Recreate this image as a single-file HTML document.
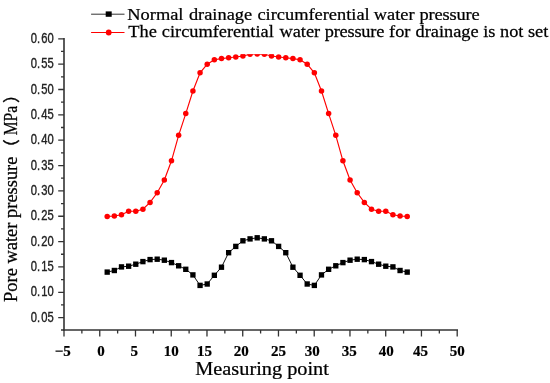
<!DOCTYPE html>
<html><head><meta charset="utf-8"><title>Pore water pressure chart</title>
<style>
html,body{margin:0;padding:0;background:#fff;}
body{width:550px;height:383px;overflow:hidden;}
svg{display:block;}
.leg{font-family:"Liberation Serif","Times New Roman",serif;font-size:17.6px;fill:#000;stroke:#000;stroke-width:0.25px;}
.xt{font-family:"Liberation Serif","Times New Roman",serif;font-size:19.2px;fill:#000;stroke:#000;stroke-width:0.25px;}
.yt{font-family:"Liberation Serif","Times New Roman",serif;font-size:18.8px;fill:#000;stroke:#000;stroke-width:0.25px;}
.yp{font-family:"Noto Sans CJK SC","WenQuanYi Zen Hei",sans-serif;font-size:17px;fill:#000;stroke:#000;stroke-width:0.4px;}
.yl{font-family:"Liberation Sans",Arial,sans-serif;font-size:11.2px;fill:#222;stroke:#222;stroke-width:0.3px;text-anchor:end;}
.xl{font-family:"Liberation Serif","Times New Roman",serif;font-weight:bold;font-size:15px;fill:#000;stroke:#000;stroke-width:0.2px;text-anchor:middle;}
</style></head><body>
<svg width="550" height="383" viewBox="0 0 550 383">
<rect width="550" height="383" fill="#fff"/>

<g stroke="#333" stroke-width="1.6" fill="none">
<path d="M64.0 38.099999999999994V330.8"/>
<path d="M63.2 330.0H458"/>
</g><g stroke="#333" stroke-width="1.3" fill="none">
<path d="M64.0 317.65h-5.8M64.0 304.97h-3M64.0 292.30h-5.8M64.0 279.62h-3M64.0 266.95h-5.8M64.0 254.27h-3M64.0 241.60h-5.8M64.0 228.92h-3M64.0 216.25h-5.8M64.0 203.57h-3M64.0 190.90h-5.8M64.0 178.22h-3M64.0 165.55h-5.8M64.0 152.87h-3M64.0 140.20h-5.8M64.0 127.52h-3M64.0 114.85h-5.8M64.0 102.17h-3M64.0 89.50h-5.8M64.0 76.82h-3M64.0 64.15h-5.8M64.0 51.47h-3M64.0 38.80h-5.8M64.0 330.0h-3"/>
<path d="M64.00 330.0v6.4M81.87 330.0v3.6M99.75 330.0v6.4M117.62 330.0v3.6M135.49 330.0v6.4M153.36 330.0v3.6M171.24 330.0v6.4M189.11 330.0v3.6M206.98 330.0v6.4M224.85 330.0v3.6M242.73 330.0v6.4M260.60 330.0v3.6M278.47 330.0v6.4M296.35 330.0v3.6M314.22 330.0v6.4M332.09 330.0v3.6M349.96 330.0v6.4M367.84 330.0v3.6M385.71 330.0v6.4M403.58 330.0v3.6M421.45 330.0v6.4M439.33 330.0v3.6M457.20 330.0v6.4"/>
</g>
<text class="yl" transform="translate(53.8 321.65) scale(1 1.23)">0.<tspan dx="1.2">05</tspan></text>
<text class="yl" transform="translate(53.8 296.30) scale(1 1.23)">0.<tspan dx="1.2">10</tspan></text>
<text class="yl" transform="translate(53.8 270.95) scale(1 1.23)">0.<tspan dx="1.2">15</tspan></text>
<text class="yl" transform="translate(53.8 245.60) scale(1 1.23)">0.<tspan dx="1.2">20</tspan></text>
<text class="yl" transform="translate(53.8 220.25) scale(1 1.23)">0.<tspan dx="1.2">25</tspan></text>
<text class="yl" transform="translate(53.8 194.90) scale(1 1.23)">0.<tspan dx="1.2">30</tspan></text>
<text class="yl" transform="translate(53.8 169.55) scale(1 1.23)">0.<tspan dx="1.2">35</tspan></text>
<text class="yl" transform="translate(53.8 144.20) scale(1 1.23)">0.<tspan dx="1.2">40</tspan></text>
<text class="yl" transform="translate(53.8 118.85) scale(1 1.23)">0.<tspan dx="1.2">45</tspan></text>
<text class="yl" transform="translate(53.8 93.50) scale(1 1.23)">0.<tspan dx="1.2">50</tspan></text>
<text class="yl" transform="translate(53.8 68.15) scale(1 1.23)">0.<tspan dx="1.2">55</tspan></text>
<text class="yl" transform="translate(53.8 42.80) scale(1 1.23)">0.<tspan dx="1.2">60</tspan></text>
<text class="xl" x="62.85" y="356.4">−5</text>
<text class="xl" x="101.05" y="356.4">0</text>
<text class="xl" x="134.29" y="356.4">5</text>
<text class="xl" x="171.34" y="356.4">10</text>
<text class="xl" x="204.48" y="356.4">15</text>
<text class="xl" x="241.33" y="356.4">20</text>
<text class="xl" x="278.57" y="356.4">25</text>
<text class="xl" x="312.32" y="356.4">30</text>
<text class="xl" x="349.31" y="356.4">35</text>
<text class="xl" x="386.31" y="356.4">40</text>
<text class="xl" x="420.55" y="356.4">45</text>
<text class="xl" x="457.20" y="356.4">50</text>
<polyline points="107.20,272.10 114.34,270.50 121.49,266.90 128.63,266.20 135.77,264.20 142.91,261.60 150.06,259.60 157.20,259.20 164.34,260.20 171.49,262.60 178.63,265.80 185.77,269.30 192.92,274.90 200.06,285.40 207.20,284.00 214.34,275.30 221.49,267.20 228.63,252.70 235.77,246.40 242.92,240.80 250.06,238.90 257.20,237.80 264.35,238.90 271.49,240.80 278.63,246.40 285.77,252.70 292.92,267.20 300.06,275.30 307.20,284.00 314.35,285.40 321.49,274.90 328.63,269.30 335.78,265.80 342.92,262.60 350.06,260.20 357.20,259.20 364.35,259.60 371.49,261.60 378.63,264.20 385.78,266.20 392.92,266.90 400.06,270.50 407.21,272.10" fill="none" stroke="#000" stroke-width="0.95"/>
<g fill="#000"><rect x="104.55" y="269.40" width="5.3" height="5.4"/><rect x="111.69" y="267.80" width="5.3" height="5.4"/><rect x="118.84" y="264.20" width="5.3" height="5.4"/><rect x="125.98" y="263.50" width="5.3" height="5.4"/><rect x="133.12" y="261.50" width="5.3" height="5.4"/><rect x="140.26" y="258.90" width="5.3" height="5.4"/><rect x="147.41" y="256.90" width="5.3" height="5.4"/><rect x="154.55" y="256.50" width="5.3" height="5.4"/><rect x="161.69" y="257.50" width="5.3" height="5.4"/><rect x="168.84" y="259.90" width="5.3" height="5.4"/><rect x="175.98" y="263.10" width="5.3" height="5.4"/><rect x="183.12" y="266.60" width="5.3" height="5.4"/><rect x="190.27" y="272.20" width="5.3" height="5.4"/><rect x="197.41" y="282.70" width="5.3" height="5.4"/><rect x="204.55" y="281.30" width="5.3" height="5.4"/><rect x="211.69" y="272.60" width="5.3" height="5.4"/><rect x="218.84" y="264.50" width="5.3" height="5.4"/><rect x="225.98" y="250.00" width="5.3" height="5.4"/><rect x="233.12" y="243.70" width="5.3" height="5.4"/><rect x="240.27" y="238.10" width="5.3" height="5.4"/><rect x="247.41" y="236.20" width="5.3" height="5.4"/><rect x="254.55" y="235.10" width="5.3" height="5.4"/><rect x="261.70" y="236.20" width="5.3" height="5.4"/><rect x="268.84" y="238.10" width="5.3" height="5.4"/><rect x="275.98" y="243.70" width="5.3" height="5.4"/><rect x="283.12" y="250.00" width="5.3" height="5.4"/><rect x="290.27" y="264.50" width="5.3" height="5.4"/><rect x="297.41" y="272.60" width="5.3" height="5.4"/><rect x="304.55" y="281.30" width="5.3" height="5.4"/><rect x="311.70" y="282.70" width="5.3" height="5.4"/><rect x="318.84" y="272.20" width="5.3" height="5.4"/><rect x="325.98" y="266.60" width="5.3" height="5.4"/><rect x="333.13" y="263.10" width="5.3" height="5.4"/><rect x="340.27" y="259.90" width="5.3" height="5.4"/><rect x="347.41" y="257.50" width="5.3" height="5.4"/><rect x="354.56" y="256.50" width="5.3" height="5.4"/><rect x="361.70" y="256.90" width="5.3" height="5.4"/><rect x="368.84" y="258.90" width="5.3" height="5.4"/><rect x="375.98" y="261.50" width="5.3" height="5.4"/><rect x="383.13" y="263.50" width="5.3" height="5.4"/><rect x="390.27" y="264.20" width="5.3" height="5.4"/><rect x="397.41" y="267.80" width="5.3" height="5.4"/><rect x="404.56" y="269.40" width="5.3" height="5.4"/></g>
<polyline points="107.20,216.40 114.34,216.00 121.49,214.80 128.63,211.20 135.77,211.20 142.91,209.20 150.06,202.40 157.20,192.80 164.34,180.00 171.49,160.80 178.63,135.30 185.77,113.60 192.92,91.00 200.06,72.80 207.20,64.20 214.34,59.80 221.49,58.60 228.63,57.70 235.77,57.00 242.92,55.95 250.06,54.20 257.20,54.00 264.35,54.20 271.49,55.95 278.63,57.00 285.77,57.70 292.92,58.60 300.06,59.80 307.20,64.20 314.35,72.80 321.49,91.00 328.63,113.60 335.78,135.30 342.92,160.80 350.06,180.00 357.20,192.80 364.35,202.40 371.49,209.20 378.63,211.20 385.78,211.20 392.92,214.80 400.06,216.00 407.21,216.40" fill="none" stroke="#ff0000" stroke-width="1.15"/>
<g fill="#ff0000"><circle cx="107.20" cy="216.40" r="2.75"/><circle cx="114.34" cy="216.00" r="2.75"/><circle cx="121.49" cy="214.80" r="2.75"/><circle cx="128.63" cy="211.20" r="2.75"/><circle cx="135.77" cy="211.20" r="2.75"/><circle cx="142.91" cy="209.20" r="2.75"/><circle cx="150.06" cy="202.40" r="2.75"/><circle cx="157.20" cy="192.80" r="2.75"/><circle cx="164.34" cy="180.00" r="2.75"/><circle cx="171.49" cy="160.80" r="2.75"/><circle cx="178.63" cy="135.30" r="2.75"/><circle cx="185.77" cy="113.60" r="2.75"/><circle cx="192.92" cy="91.00" r="2.75"/><circle cx="200.06" cy="72.80" r="2.75"/><circle cx="207.20" cy="64.20" r="2.75"/><circle cx="214.34" cy="59.80" r="2.75"/><circle cx="221.49" cy="58.60" r="2.75"/><circle cx="228.63" cy="57.70" r="2.75"/><circle cx="235.77" cy="57.00" r="2.75"/><circle cx="242.92" cy="55.95" r="2.75"/><circle cx="250.06" cy="54.20" r="2.75"/><circle cx="257.20" cy="54.00" r="2.75"/><circle cx="264.35" cy="54.20" r="2.75"/><circle cx="271.49" cy="55.95" r="2.75"/><circle cx="278.63" cy="57.00" r="2.75"/><circle cx="285.77" cy="57.70" r="2.75"/><circle cx="292.92" cy="58.60" r="2.75"/><circle cx="300.06" cy="59.80" r="2.75"/><circle cx="307.20" cy="64.20" r="2.75"/><circle cx="314.35" cy="72.80" r="2.75"/><circle cx="321.49" cy="91.00" r="2.75"/><circle cx="328.63" cy="113.60" r="2.75"/><circle cx="335.78" cy="135.30" r="2.75"/><circle cx="342.92" cy="160.80" r="2.75"/><circle cx="350.06" cy="180.00" r="2.75"/><circle cx="357.20" cy="192.80" r="2.75"/><circle cx="364.35" cy="202.40" r="2.75"/><circle cx="371.49" cy="209.20" r="2.75"/><circle cx="378.63" cy="211.20" r="2.75"/><circle cx="385.78" cy="211.20" r="2.75"/><circle cx="392.92" cy="214.80" r="2.75"/><circle cx="400.06" cy="216.00" r="2.75"/><circle cx="407.21" cy="216.40" r="2.75"/></g>
<rect x="88" y="0" width="462" height="54.1" fill="#fff"/>
<path d="M91.1 14.2H124.5" stroke="#333" stroke-width="1"/><rect x="105.7" y="11.4" width="6" height="5.4" fill="#000"/>
<path d="M91.1 32.5H124.5" stroke="#ff0000" stroke-width="1"/><circle cx="108.7" cy="32.5" r="2.9" fill="#ff0000"/>
<text class="leg" transform="translate(127.3 20) scale(1.0451 1)">Normal <tspan dx="0.765">drainage</tspan> <tspan dx="0.574">circumferential</tspan> <tspan dx="-0.574">water</tspan> <tspan dx="0.191 -0.137 -0.137 -0.137 -0.137 -0.137 -0.137 -0.137">pressure</tspan></text>
<text class="leg" transform="translate(128.3 37.4) scale(1.0418 1)">The <tspan dx="0.383">circumferential</tspan> <tspan dx="1.053">water</tspan> <tspan dx="-0.096 -0.191 -0.191 -0.191 -0.191 -0.191 -0.191 -0.191">pressure</tspan> <tspan dx="0.096">for</tspan> <tspan dx="0.478">drainage</tspan> <tspan dx="-0.096">is</tspan> not set</text>
<text class="xt" transform="translate(195.3 374.5) scale(1.057 1)">Measuring point</text>
<text class="yt" transform="translate(17.2 301.9) rotate(-90) scale(0.981 1)">Pore water pressure</text>
<text class="yp" transform="translate(17.9 156.3) rotate(-90)">（</text>
<text class="yt" transform="translate(17.2 135.3) rotate(-90) scale(0.83 1.03)">MPa</text>
<text class="yp" transform="translate(17.9 102.9) rotate(-90)">）</text>
</svg></body></html>
